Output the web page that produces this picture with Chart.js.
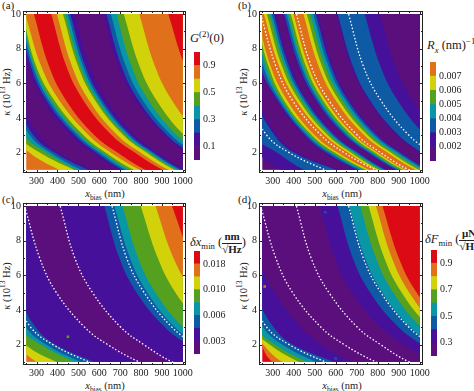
<!DOCTYPE html>
<html>
<head>
<meta charset="utf-8">
<script src="https://cdn.jsdelivr.net/npm/chart.js@4"></script>
<style>
html, body { margin: 0; padding: 0; background: #fff; }
#page { position: relative; width: 474px; height: 391px; overflow: hidden; font-family: "Liberation Serif", serif; color: #222; }
canvas { position: absolute; }
.t { position: absolute; white-space: nowrap; line-height: 1; }
.rot { transform: translate(-50%, -50%) rotate(-90deg); font-size: 10.5px; }
.xl { transform: translateX(-50%); font-size: 10.5px; }
.ttl { font-size: 12.5px; }
.ttl sup, .rot sup { font-size: 70%; line-height: 0; }
.ttl sub, .xl sub { font-size: 70%; line-height: 0; }
.frac { display: inline-block; vertical-align: middle; text-align: center; font-size: 11px; font-weight: bold; }
.frac span { display: block; line-height: 1.05; }
.frac span + span { border-top: 1px solid #222; }
</style>
</head>
<body>
<div id="page">
  <span class="t" style="left:2px;top:0px;font-size:11px">(a)</span>
  <span class="t" style="left:238px;top:0px;font-size:11px">(b)</span>
  <span class="t" style="left:2px;top:194px;font-size:11px">(c)</span>
  <span class="t" style="left:238px;top:194px;font-size:11px">(d)</span>

  <span class="t rot" style="left:7px;top:92px"><i>κ</i> (10<sup>13</sup> Hz)</span>
  <span class="t rot" style="left:244px;top:92px"><i>κ</i> (10<sup>13</sup> Hz)</span>
  <span class="t rot" style="left:7px;top:286px"><i>κ</i> (10<sup>13</sup> Hz)</span>
  <span class="t rot" style="left:244px;top:286px"><i>κ</i> (10<sup>13</sup> Hz)</span>

  <span class="t xl" style="left:105px;top:189px"><i>x</i><sub>bias</sub> (nm)</span>
  <span class="t xl" style="left:342px;top:189px"><i>x</i><sub>bias</sub> (nm)</span>
  <span class="t xl" style="left:105px;top:381px"><i>x</i><sub>bias</sub> (nm)</span>
  <span class="t xl" style="left:342px;top:381px"><i>x</i><sub>bias</sub> (nm)</span>

  <span class="t ttl" style="left:190px;top:32px"><i>G</i><sup>(2)</sup>(0)</span>
  <span class="t ttl" style="left:427px;top:39px"><i>R<sub>x</sub></i> (nm)<sup>−1</sup></span>
  <span class="t ttl" style="left:190px;top:231px"><i>δx</i><sub>min</sub> (<span class="frac"><span>nm</span><span>√Hz</span></span>)</span>
  <span class="t ttl" style="left:425px;top:228px"><i>δF</i><sub>min</sub> (<span class="frac"><span>μN</span><span>√Hz</span></span>)</span>
</div>

<script>
// contour colours, lowest level first
const palette = ['#5b0f7c', '#47109a', '#0f5aa5', '#0a97a5', '#55a01e', '#d2d20a', '#e0701a', '#dc0a14'];

const kappaLevels = [10, 7, 5, 3, 2, 1];
const xTicks = [300, 400, 500, 600, 700, 800, 900, 1000];
const yTicks = [2, 4, 6, 8, 10];
const xMinor = [250, 350, 450, 550, 650, 750, 850, 950];
const yMinor = [1, 3, 5, 7, 9];

// x (nm) of every contour at each of kappaLevels, lower left to upper right
const aContours = [
  [100, 125, 150, 195, 265, 410], [85, 112, 145, 212, 315, 480], [101, 135, 173, 240, 346, 495],
  [109, 145, 185, 268, 365, 515], [118, 157, 200, 285, 385, 545], [132, 175, 222, 314, 405, 570],
  [205, 260, 332, 462, 565, 690], [215, 272, 348, 483, 585, 712], [221, 282, 360, 497, 600, 728],
  [226, 290, 372, 510, 615, 745], [232, 298, 386, 525, 630, 765], [246, 322, 410, 550, 655, 795],
  [287, 359, 442, 577, 687, 822], [370, 442, 525, 660, 770, 905], [397, 469, 552, 687, 797, 932],
  [426, 498, 581, 716, 826, 961], [437, 509, 592, 727, 837, 972], [450, 522, 605, 740, 850, 985],
  [461, 533, 616, 751, 861, 996], [482, 554, 637, 772, 882, 1017], [618, 690, 773, 908, 1018, 1153],
  [634, 706, 789, 924, 1034, 1169], [655, 727, 810, 945, 1055, 1190], [682, 754, 837, 972, 1082, 1217],
  [717, 792, 875, 1007, 1122, 1260], [791, 866, 949, 1081, 1196, 1340], [930, 1010, 1100, 1240, 1360, 1500]
];
// level of the band above each contour, first entry is the corner band
const aLevels = [6, 5, 4, 3, 2, 1, 0, 1, 2, 3, 4, 5, 6, 7, 6, 5, 4, 3, 2, 1, 0, 1, 2, 3, 4, 5, 6, 7];

const bContours = [
  [60, 85, 115, 170, 225, 340], [79, 111, 147, 205, 320, 450], [124, 168, 217, 309, 400, 600],
  [132, 178, 228, 323, 419, 625], [186, 235, 318, 445, 545, 690], [190, 240, 325, 455, 555, 705],
  [201, 255, 335, 465, 570, 720], [208, 268, 345, 475, 580, 735], [215, 280, 355, 487, 595, 745],
  [224, 290, 370, 500, 610, 760], [258, 330, 413, 548, 658, 793], [272, 344, 427, 562, 672, 807],
  [285, 357, 440, 575, 685, 820], [295, 367, 450, 585, 695, 830], [305, 377, 460, 595, 705, 840],
  [315, 387, 470, 605, 715, 850], [346, 418, 501, 636, 746, 881], [354, 426, 509, 644, 754, 889],
  [365, 437, 520, 655, 765, 900], [374, 446, 529, 664, 774, 909], [386, 458, 541, 676, 786, 921],
  [398, 470, 553, 688, 798, 933], [446, 518, 601, 736, 846, 981], [462, 534, 617, 752, 862, 997],
  [478, 550, 633, 768, 878, 1013], [493, 565, 648, 783, 893, 1028], [505, 577, 660, 795, 905, 1040],
  [515, 587, 670, 805, 915, 1050], [601, 673, 756, 891, 1001, 1136], [609, 681, 764, 899, 1009, 1144],
  [737, 812, 895, 1027, 1142, 1280], [809, 884, 967, 1099, 1214, 1350]
];
const bLevels = [0, 1, 2, 1, 0, 1, 2, 3, 4, 5, 6, 5, 4, 3, 2, 1, 0, 1, 2, 3, 4, 5, 6, 5, 4, 3, 2, 1, 0, 1, 2, 1, 0];

const cContours = [
  [113, 129, 146, 179, 211, 300], [100, 120, 145, 190, 245, 395], [68, 105, 146, 215, 320, 480],
  [101, 138, 178, 250, 345, 510], [118, 160, 206, 295, 390, 575], [243, 315, 395, 530, 640, 790],
  [413, 483, 568, 703, 813, 948], [624, 696, 779, 914, 1024, 1159], [672, 747, 830, 962, 1077, 1215],
  [711, 786, 869, 1001, 1116, 1250], [798, 880, 965, 1100, 1215, 1350], [869, 955, 1050, 1200, 1320, 1460],
  [948, 1040, 1130, 1290, 1410, 1550]
];
const cLevels = [6, 5, 4, 3, 2, 1, 0, 1, 2, 3, 4, 5, 6, 7];

const dContours = [
  [165, 177, 190, 214, 245, 300], [114, 135, 157, 201, 255, 345], [72, 104, 138, 205, 285, 425],
  [81, 115, 153, 220, 310, 465], [103, 139, 179, 255, 345, 505], [126, 168, 214, 305, 395, 590],
  [183, 228, 310, 435, 530, 680], [523, 595, 678, 813, 923, 1058], [609, 681, 764, 899, 1009, 1144],
  [664, 739, 822, 954, 1069, 1200], [716, 791, 874, 1006, 1121, 1260], [756, 831, 914, 1046, 1161, 1300],
  [791, 867, 950, 1082, 1197, 1340], [822, 900, 985, 1120, 1240, 1380]
];
const dLevels = [7, 6, 5, 4, 3, 2, 1, 0, 1, 2, 3, 4, 5, 6, 7];

// dotted white curves, same kappaLevels
const dashA = [102, 143, 188, 272, 378, 550];
const dashB = [243, 315, 395, 530, 640, 790];
const dashC = [413, 483, 568, 703, 813, 948];
const dashD = [661, 731, 815, 948, 1060, 1210];

// stray markers in the picture
const cMarkers = [{ x: 450, y: 2.45, level: 4 }];
const dMarkers = [{ x: 262, y: 5.35, level: 6 }, { x: 550, y: 9.65, level: 2 }, { x: 600, y: 1.2, level: 2 }];

// colour bars: tick position in bands and its label
const aBarLevels = [0, 1, 2, 3, 4, 5, 6, 7];
const aBarTicks = [1, 3, 5, 7];
const aBarLabels = ['0.1', '0.3', '0.5', '0.9'];
const bBarLevels = [0, 1, 2, 3, 4, 5, 6];
const bBarTicks = [1, 2, 3, 4, 5, 6];
const bBarLabels = ['0.002', '0.003', '0.004', '0.005', '0.006', '0.007'];
const cBarLevels = [0, 1, 2, 3, 4, 5, 6, 7];
const cBarTicks = [1, 3, 5, 7];
const cBarLabels = ['0.003', '0.006', '0.010', '0.018'];
const dBarLevels = [0, 1, 2, 3, 4, 5, 6, 7];
const dBarTicks = [1, 3, 5, 7];
const dBarLabels = ['0.3', '0.5', '0.7', '0.9'];

const tickFont = { family: '"Liberation Serif", serif', size: 10 };
const page = document.getElementById('page');

function addCanvas(left, top, width, height) {
    const c = document.createElement('canvas');
    c.width = width;
    c.height = height;
    c.style.left = left + 'px';
    c.style.top = top + 'px';
    c.style.width = width + 'px';
    c.style.height = height + 'px';
    page.appendChild(c);
    return c.getContext('2d');
}

function curvePoints(xs) {
    return xs.map((x, i) => ({ x: x, y: kappaLevels[i] }));
}

// paints the corner band and keeps the contours inside the data range,
// the frame sits a little outside of it like in the original
function contourPlugin(cornerLevel) {
    return {
        id: 'contourArea',
        beforeDatasetsDraw(chart) {
            const { ctx, scales } = chart;
            const l = scales.x.getPixelForValue(250), r = scales.x.getPixelForValue(1000);
            const t = scales.y.getPixelForValue(10), b = scales.y.getPixelForValue(1);
            ctx.save();
            ctx.beginPath();
            ctx.rect(l, t, r - l, b - t);
            ctx.clip();
            ctx.fillStyle = palette[cornerLevel];
            ctx.fillRect(l, t, r - l, b - t);
        },
        afterDatasetsDraw(chart) {
            chart.ctx.restore();
        },
        afterDraw(chart) {
            const { ctx, scales, chartArea: a } = chart;
            ctx.save();
            ctx.strokeStyle = '#222';
            ctx.lineWidth = 1;
            ctx.strokeRect(a.left + 0.5, a.top + 0.5, a.width - 1, a.height - 1);
            ctx.beginPath();
            const mark = (v, len) => {
                const p = Math.round(scales.x.getPixelForValue(v)) + 0.5;
                ctx.moveTo(p, a.top); ctx.lineTo(p, a.top + len);
                ctx.moveTo(p, a.bottom); ctx.lineTo(p, a.bottom - len);
            };
            const markY = (v, len) => {
                const p = Math.round(scales.y.getPixelForValue(v)) + 0.5;
                ctx.moveTo(a.left, p); ctx.lineTo(a.left + len, p);
                ctx.moveTo(a.right, p); ctx.lineTo(a.right - len, p);
            };
            xTicks.forEach(v => mark(v, 3));
            xMinor.forEach(v => mark(v, 2));
            yTicks.forEach(v => markY(v, 3));
            yMinor.forEach(v => markY(v, 2));
            ctx.stroke();
            ctx.restore();
        }
    };
}

function drawPanel(left, top, box, contours, levels, dashes, markers) {
    const ctx = addCanvas(left, top, box.w, box.h);
    const datasets = [];

    contours.forEach((xs, i) => {
        // run the contour on below the axis so its fill reaches the right edge
        const last = xs[xs.length - 1];
        datasets.push({
            data: curvePoints(xs).concat({ x: last + 150, y: 0.3 }, { x: 4000, y: 0.3 }),
            borderWidth: 0,
            pointRadius: 0,
            tension: 0.4,
            backgroundColor: palette[levels[i + 1]],
            fill: 'end',
            order: contours.length - i + 5
        });
    });
    dashes.forEach(xs => {
        const last = xs[xs.length - 1];
        datasets.push({
            data: curvePoints(xs).concat({ x: last + 150, y: 0.3 }),
            borderColor: '#fff',
            borderWidth: 1.3,
            borderDash: [1.5, 2],
            pointRadius: 0,
            tension: 0.4,
            fill: false,
            order: 1
        });
    });
    markers.forEach(m => {
        datasets.push({
            data: [{ x: m.x, y: m.y }],
            showLine: false,
            pointStyle: 'rect',
            pointRadius: 1.8,
            pointBorderWidth: 0,
            pointBackgroundColor: palette[m.level],
            order: 0
        });
    });

    new Chart(ctx, {
        type: 'line',
        data: { datasets: datasets },
        plugins: [contourPlugin(levels[0])],
        options: {
            responsive: false,
            animation: false,
            events: [],
            layout: { padding: { top: box.top, right: box.right } },
            plugins: { legend: { display: false }, tooltip: { enabled: false } },
            scales: {
                x: {
                    type: 'linear', min: 235, max: 1015,
                    grid: { display: false, drawTicks: false }, border: { display: false },
                    afterBuildTicks: s => { s.ticks = xTicks.map(v => ({ value: v })); },
                    afterFit: s => { s.height = box.xh; },
                    ticks: { font: tickFont, color: '#222', padding: 2, maxRotation: 0, autoSkip: false, callback: v => String(v) }
                },
                y: {
                    type: 'linear', min: 0.82, max: 10.18,
                    grid: { display: false, drawTicks: false }, border: { display: false },
                    afterBuildTicks: s => { s.ticks = yTicks.map(v => ({ value: v })); },
                    afterFit: s => { s.width = box.yw; },
                    ticks: { font: tickFont, color: '#222', padding: 2, autoSkip: false, callback: v => String(v) }
                }
            }
        }
    });
}

function drawColorBar(left, top, height, barLevels, barTicks, barLabels) {
    const ctx = addCanvas(left, top, 42, height + 12);
    new Chart(ctx, {
        type: 'bar',
        data: {
            labels: [''],
            datasets: barLevels.map(l => ({ data: [1], backgroundColor: palette[l], barPercentage: 1, categoryPercentage: 1 }))
        },
        options: {
            responsive: false,
            animation: false,
            events: [],
            plugins: { legend: { display: false }, tooltip: { enabled: false } },
            layout: { padding: { top: 6, bottom: 6 } },
            scales: {
                x: { display: false, stacked: true },
                y: {
                    stacked: true, position: 'right', min: 0, max: barLevels.length,
                    grid: { display: false, drawTicks: false }, border: { display: false },
                    afterBuildTicks: s => { s.ticks = barTicks.map(v => ({ value: v })); },
                    afterFit: s => { s.width = 36; },
                    ticks: {
                        font: tickFont, color: '#222', padding: 3, autoSkip: false,
                        callback: v => barLabels[barTicks.indexOf(v)]
                    }
                }
            }
        }
    });
}

const leftBox = { w: 200, h: 195, top: 11, right: 14, yw: 23, xh: 22 };
const rightBox = { w: 200, h: 195, top: 11, right: 14, yw: 22, xh: 22 };

drawPanel(0, 0, leftBox, aContours, aLevels, [], []);
drawPanel(237, 0, rightBox, bContours, bLevels, [dashA, dashB, dashC, dashD], []);
drawPanel(0, 192, leftBox, cContours, cLevels, [dashA, dashB, dashC, dashD], cMarkers);
drawPanel(237, 192, rightBox, dContours, dLevels, [dashA, dashB, dashC, dashD], dMarkers);

drawColorBar(194, 43, 114, aBarLevels, aBarTicks, aBarLabels);
drawColorBar(430, 53, 105, bBarLevels, bBarTicks, bBarLabels);
drawColorBar(194, 242, 109, cBarLevels, cBarTicks, cBarLabels);
drawColorBar(431, 241, 112, dBarLevels, dBarTicks, dBarLabels);
</script>
</body>
</html>
